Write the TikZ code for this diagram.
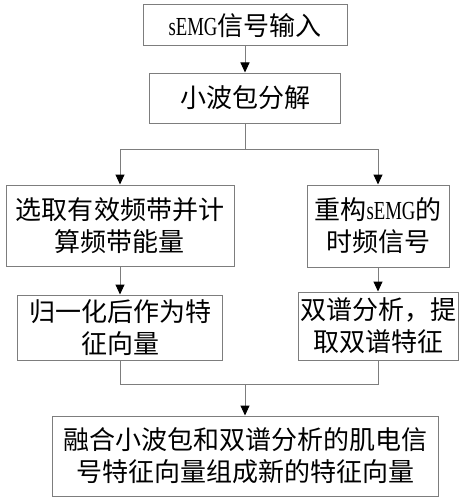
\documentclass[tikz,border=0pt]{standalone}
\usepackage{fontspec}
\setmainfont{Noto Sans CJK SC}
\newfontfamily\latinfont[FakeStretch=0.72]{Liberation Serif}
\newcommand{\semg}{{\latinfont sEMG}}
\usetikzlibrary{arrows.meta, positioning, calc}
\definecolor{LineGray}{RGB}{125,125,125}
\tikzset{
  % riquadri del diagramma
  box/.style={draw=LineGray,line width=1pt,align=center,inner sep=0pt,
    text=black,font=\fontsize{26}{32}\selectfont},
  % connessioni
  link/.style={draw=LineGray,line width=1pt},
  link arrow/.style={link,-{Triangle[length=10pt,width=9pt,color=black]}}
}
\begin{document}
\begin{tikzpicture}[x=1pt,y=-1pt]
    \useasboundingbox (0,0) rectangle (474,503);
    % colonna centrale
    \node[box,minimum width=204,minimum height=41] (input) at (245,25.5) {\semg 信号输入};
    \node[box,minimum width=191,minimum height=50] (wpd) at (245,98) {小波包分解};
    % ramo sinistro
    \node[box,minimum width=228,minimum height=81] (band) at (120,225.5)
      {选取有效频带并计\\算频带能量};
    \node[box,minimum width=205,minimum height=65] (norm) at (120,327.5)
      {归一化后作为特\\征向量};
    % ramo destro
    \node[box,minimum width=142,minimum height=82] (recon) at (378,226)
      {重构\semg 的\\时频信号};
    \node[box,minimum width=160,minimum height=68] (bisp) at (378,326)
      {双谱分析，提\\取双谱特征};
    % fusione
    \node[box,minimum width=386,minimum height=80] (fuse) at (245,456)
      {融合小波包和双谱分析的肌电信\\号特征向量组成新的特征向量};
    \coordinate (split) at (245,149);
    \coordinate (merge) at (245,384);
    \draw[link arrow] (input) -- (wpd);
    \draw[link] (wpd) -- (split);
    \draw[link arrow] (split) -| (band);
    \draw[link arrow] (split) -| (recon);
    \draw[link arrow] (band) -- (norm);
    \draw[link arrow] (recon) -- (bisp);
    \draw[link] (norm.south) -- ++(0,24) -| (bisp.south);
    \draw[link arrow] (merge) -- (fuse);
  \end{tikzpicture}
\end{document}
